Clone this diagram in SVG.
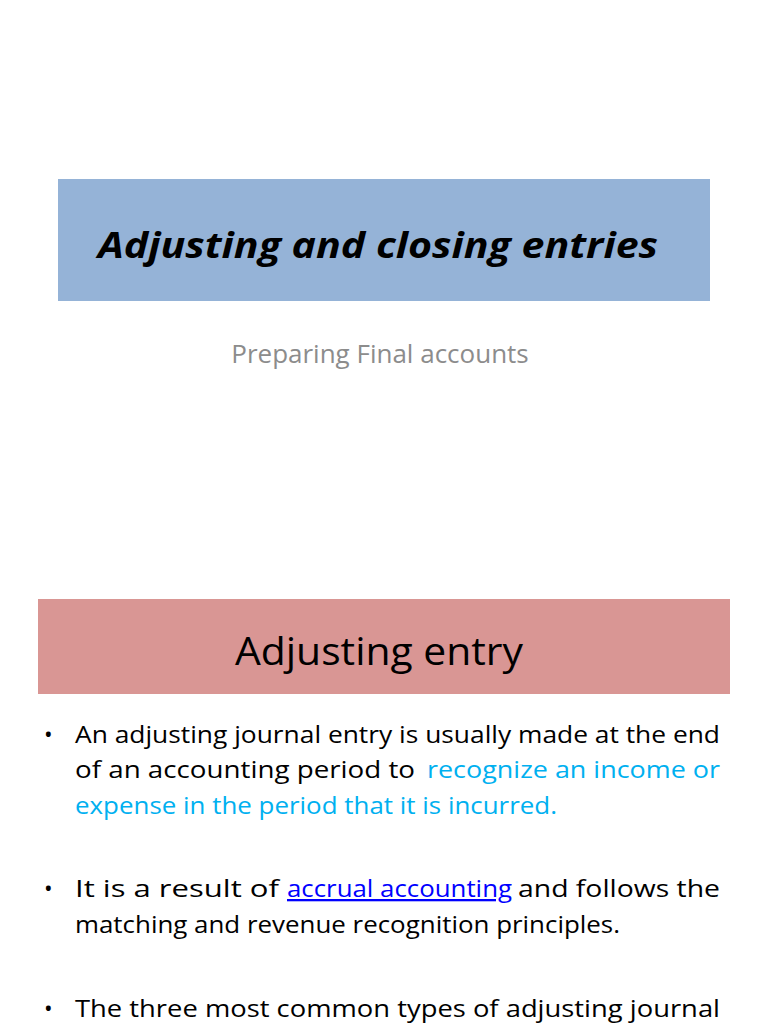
<svg xmlns="http://www.w3.org/2000/svg" width="768" height="1024" viewBox="0 0 768 1024">
<style>
text{font-family:"Open Sans","Liberation Sans",sans-serif;}
.b{font-size:23px;fill:#000;}
.c{fill:#00b0f0;}
.l{fill:#0000ff;text-decoration:underline;}
</style>
<rect width="768" height="1024" fill="#fff"/>
<rect x="58" y="179" width="652" height="122" fill="#95b3d7"/>
<text x="98" y="258" font-size="35" font-weight="bold" font-style="italic" textLength="560" lengthAdjust="spacingAndGlyphs">Adjusting and closing entries</text>
<text x="380" y="363" font-size="26" fill="#8c8c8c" text-anchor="middle">Preparing Final accounts</text>
<rect x="38" y="599" width="692" height="95" fill="#d99694"/>
<text x="379" y="665" font-size="38" text-anchor="middle" textLength="288" lengthAdjust="spacingAndGlyphs">Adjusting entry</text>
<g class="b">
<text x="44" y="743">•</text>
<text x="75" y="743" textLength="645" lengthAdjust="spacingAndGlyphs">An adjusting journal entry is usually made at the end</text>
<text x="75" y="778" textLength="340" lengthAdjust="spacingAndGlyphs">of an accounting period to</text>
<text x="427" y="778" class="c" textLength="293" lengthAdjust="spacingAndGlyphs">recognize an income or</text>
<text x="75" y="814" class="c" textLength="482" lengthAdjust="spacingAndGlyphs">expense in the period that it is incurred.</text>
<text x="44" y="897">•</text>
<text x="75" y="897" textLength="204" lengthAdjust="spacingAndGlyphs">It is a result of</text>
<text x="287" y="897" class="l" textLength="225" lengthAdjust="spacingAndGlyphs">accrual accounting</text>
<text x="518" y="897" textLength="202" lengthAdjust="spacingAndGlyphs">and follows the</text>
<text x="75" y="933" textLength="545" lengthAdjust="spacingAndGlyphs">matching and revenue recognition principles.</text>
<text x="44" y="1017">•</text>
<text x="75" y="1017" textLength="645" lengthAdjust="spacingAndGlyphs">The three most common types of adjusting journal</text>
</g>
</svg>
